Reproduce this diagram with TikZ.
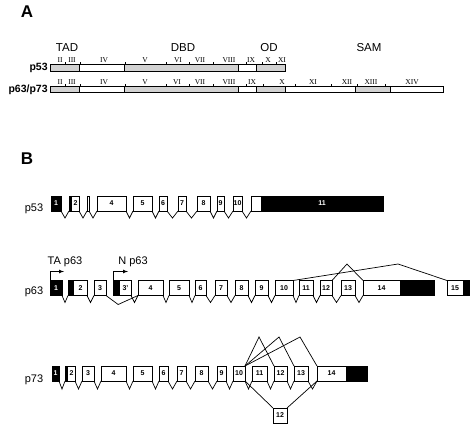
\documentclass[tikz,border=0pt]{standalone}
\usepackage{fontspec}
\setmainfont{Liberation Sans}
\newfontfamily\romfont{Liberation Serif}
\usetikzlibrary{calc}

\tikzset{
  exon/.style={draw, fill=white, inner sep=0pt, outer sep=0pt, minimum height=15pt,
    font=\fontsize{7}{7}\selectfont\bfseries},
  blackexon/.style={exon, fill=black, text=white},
  blkleft/.style={path picture={\fill[black] (path picture bounding box.south west) rectangle ([xshift=#1]path picture bounding box.north west);}},
  blkright/.style={path picture={\fill[black] (path picture bounding box.south east) rectangle ([xshift=-#1]path picture bounding box.north east);}},
  dom/.style={draw, fill=gray!35},
  plain/.style={draw, fill=white},
  roman/.style={font=\romfont\fontsize{7.5}{7.5}\selectfont, inner sep=0pt},
  domlbl/.style={font=\fontsize{11.5}{11.5}\selectfont, inner sep=0pt},
  genelbl/.style={font=\fontsize{11}{11}\selectfont, inner sep=0pt},
  rowlbl/.style={font=\fontsize{10.5}{10.5}\selectfont\bfseries, inner sep=0pt, anchor=east},
  panel/.style={font=\fontsize{17}{17}\selectfont\bfseries, inner sep=0pt},
}

\newcommand{\intron}[3]{\draw (#1.south east) -- ($(#1.south east)!.5!(#2.south west)+(0,#3)$) -- (#2.south west);}

\begin{document}
\begin{tikzpicture}[x=1pt, y=-1pt, line width=0.7pt]
    \useasboundingbox (0,0) rectangle (474,426);

    % panel A
    \node[panel] (pA) at (27,12) {A};
    \node[domlbl] (tad) at (67,48) {TAD};
    \node[domlbl] (dbd) at (183,48) {DBD};
    \node[domlbl] (od) at (269,48) {OD};
    \node[domlbl] (sam) at (369,48) {SAM};

    \node[rowlbl] (a53) at (48,68) {p53};
    \foreach \l/\r/\s in {50/79/dom, 79/124/plain, 124/238/dom, 238/256/plain, 256/285/dom}
        \draw[\s] (\l,64) rectangle (\r,71);
    \foreach \x in {65,80,125,166,189,213,246,262,276}
        \draw (\x,62) -- (\x,64);
    \foreach \x/\t [count=\i] in {60/II, 72/III, 104/IV, 145/V, 178/VI, 200/VII, 229/VIII, 251/IX, 268/X, 282/XI}
        \node[roman] (r53-\i) at (\x,60.5) {\t};

    \node[rowlbl] (a63) at (48,90) {p63/p73};
    \foreach \l/\r/\s in {50/79/dom, 79/124/plain, 124/238/dom, 238/256/plain, 256/285/dom, 285/355/plain, 355/390/dom, 390/443/plain}
        \draw[\s] (\l,86) rectangle (\r,92);
    \foreach \x in {65,80,125,166,189,213,246,263,295,331,357,385}
        \draw (\x,84) -- (\x,86);
    \foreach \x/\t [count=\i] in {60/II, 72/III, 104/IV, 145/V, 177/VI, 200/VII, 229/VIII, 252/IX, 282/X, 313/XI, 347/XII, 371/XIII, 412/XIV}
        \node[roman] (r63-\i) at (\x,82.5) {\t};

    % panel B
    \node[panel] (pB) at (27,159) {B};

    % p53
    \node[genelbl] (g53) at (34,209) {p53};
    \node[blackexon, minimum width=10pt] (p53x1) at (56,203.5) {1};
    \node[exon, blkleft=3pt, minimum width=10pt] (p53x2) at (74,203.5) {\hspace*{3pt}2};
    \node[exon, minimum width=2pt] (p53x3) at (88,203.5) {};
    \foreach \n/\l/\r in {4/97/126, 5/133/152, 6/159/167, 7/178/186, 8/197/210, 9/217/224, 10/233/242}
        \node[exon, minimum width={(\r-\l)*1pt}] (p53x\n) at ({(\l+\r)/2},203.5) {\n};
    \node[exon, blkright=122pt, text=white, minimum width=132pt] (p53x11) at (317,203.5) {\hspace*{10pt}11};
    \foreach \a/\b in {1/2,2/3,3/4,4/5,5/6,6/7,7/8,8/9,9/10,10/11}
        {\intron{p53x\a}{p53x\b}{7}}

    % p63
    \node[genelbl] (g63) at (34,292) {p63};
    \node[blackexon, minimum width=12pt] (p63x1) at (56,288) {1};
    \node[exon, blkleft=6pt, minimum width=19pt] (p63x2) at (77.5,288) {\hspace*{6pt}2};
    \node[exon, blkleft=7pt, minimum width=18pt] (p63x3b) at (122,288) {\hspace*{7pt}3'};
    \foreach \n/\l/\r in {3/94/106, 4/138/163, 5/169/189, 6/195/206, 7/215/227, 8/235/248, 9/255/268, 10/275/293, 11/299/313, 12/320/332, 13/341/355}
        \node[exon, minimum width={(\r-\l)*1pt}] (p63x\n) at ({(\l+\r)/2},288) {\n};
    \node[exon, blkright=34pt, minimum width=71pt] (p63x14) at (398.5,288) {14\hspace*{34pt}};
    \node[exon, blkright=6pt, minimum width=22pt] (p63x15) at (458,288) {15\hspace*{6pt}};
    \foreach \a/\b in {1/2,2/3,3b/4,4/5,5/6,6/7,7/8,8/9,9/10,10/11,11/12,12/13,13/14}
        {\intron{p63x\a}{p63x\b}{7}}
    \draw (p63x3.south east) -- ($(p63x3.south east)!.38!(p63x4.south west)+(0,9)$) -- (p63x4.south west);
    \draw (p63x10.north east) -- (398,264) -- (p63x15.north west);
    \draw (p63x12.north east) -- (347,264) -- (p63x14.north west);

    \node[genelbl] (tap63) at (65,262) {TA p63};
    \node[genelbl] (np63) at (133,262) {N p63};
    \draw[-latex] (p63x1.north west) |- ++(14,-9);
    \draw[-latex] (p63x3b.north west) |- ++(15,-9);

    % p73
    \node[genelbl] (g73) at (34,380) {p73};
    \node[blackexon, minimum width=7pt] (p73x1) at (55.5,373.5) {1};
    \node[exon, blkleft=3pt, minimum width=10pt] (p73x2) at (70,373.5) {\hspace*{3pt}2};
    \foreach \n/\l/\r in {3/82/94, 4/101/126, 5/133/152, 6/159/168, 7/177/186, 8/195/208, 9/217/226, 10/233/245, 11/252/267, 12/274/287, 13/294/308}
        \node[exon, minimum width={(\r-\l)*1pt}] (p73x\n) at ({(\l+\r)/2},373.5) {\n};
    \node[exon, blkright=21pt, minimum width=50pt] (p73x14) at (342,373.5) {14\hspace*{21pt}};
    \node[exon, minimum width=14pt] (p73x12b) at (280,415.5) {12};
    \foreach \a/\b in {1/2,2/3,3/4,4/5,5/6,6/7,7/8,8/9,9/10,10/11,11/12,12/13,13/14}
        {\intron{p73x\a}{p73x\b}{8}}
    \draw (p73x10.north east) -- (259,337) -- (p73x12.north west);
    \draw (p73x10.north east) -- (279,337) -- (p73x13.north west);
    \draw (p73x10.north east) -- (300,337) -- (p73x14.north west);
    \draw (p73x10.south east) -- (p73x12b.north west);
    \draw (p73x12b.north east) -- (p73x14.south west);
\end{tikzpicture}
\end{document}
